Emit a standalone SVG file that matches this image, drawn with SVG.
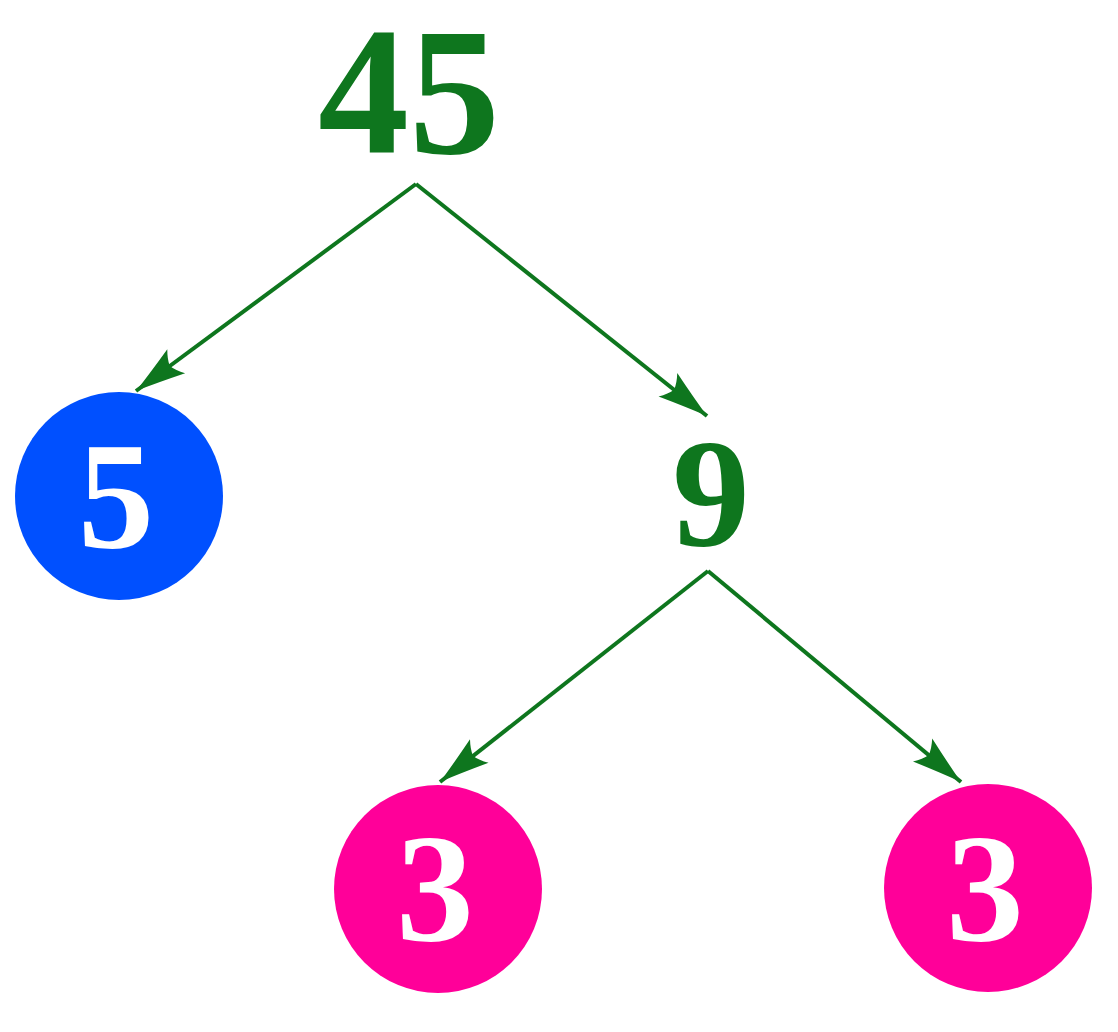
<svg xmlns="http://www.w3.org/2000/svg" width="1118" height="1032" viewBox="0 0 1118 1032">
<style>
.t{font-family:"Liberation Serif","Times New Roman",serif;font-weight:bold;text-anchor:middle}
.g{fill:#0e761e}
.w{fill:#ffffff}
.e{stroke:#0e761e;stroke-width:4;fill:none}
</style>
<defs>
<marker id="ah" markerUnits="userSpaceOnUse" markerWidth="60" markerHeight="40" viewBox="-55 -20 60 40" refX="0" refY="0" orient="auto">
<path d="M0,0 Q-22,-6 -50,-15 Q-44,-7 -42,0 Q-44,7 -50,15 Q-22,6 0,0 Z" fill="#0e761e"/>
</marker>
</defs>
<rect width="1118" height="1032" fill="#ffffff"/>
<g id="connectors">
<line class="e" x1="416" y1="184" x2="136" y2="391" marker-end="url(#ah)"/>
<line class="e" x1="416" y1="184" x2="707" y2="416" marker-end="url(#ah)"/>
<line class="e" x1="708" y1="571" x2="440" y2="782" marker-end="url(#ah)"/>
<line class="e" x1="708" y1="571" x2="961" y2="782" marker-end="url(#ah)"/>
</g>
<g id="n45"><text class="t g" x="409" y="153" font-size="182">45</text></g>
<g id="n5"><circle cx="119" cy="496" r="104" fill="#0050ff"/><text class="t w" x="116" y="548" font-size="152">5</text></g>
<g id="n9"><text class="t g" x="711" y="545" font-size="155">9</text></g>
<g id="n3a"><circle cx="438" cy="889" r="104" fill="#ff0099"/><text class="t w" x="435" y="940" font-size="155">3</text></g>
<g id="n3b"><circle cx="988" cy="888" r="104" fill="#ff0099"/><text class="t w" x="985" y="940" font-size="155">3</text></g>
</svg>
